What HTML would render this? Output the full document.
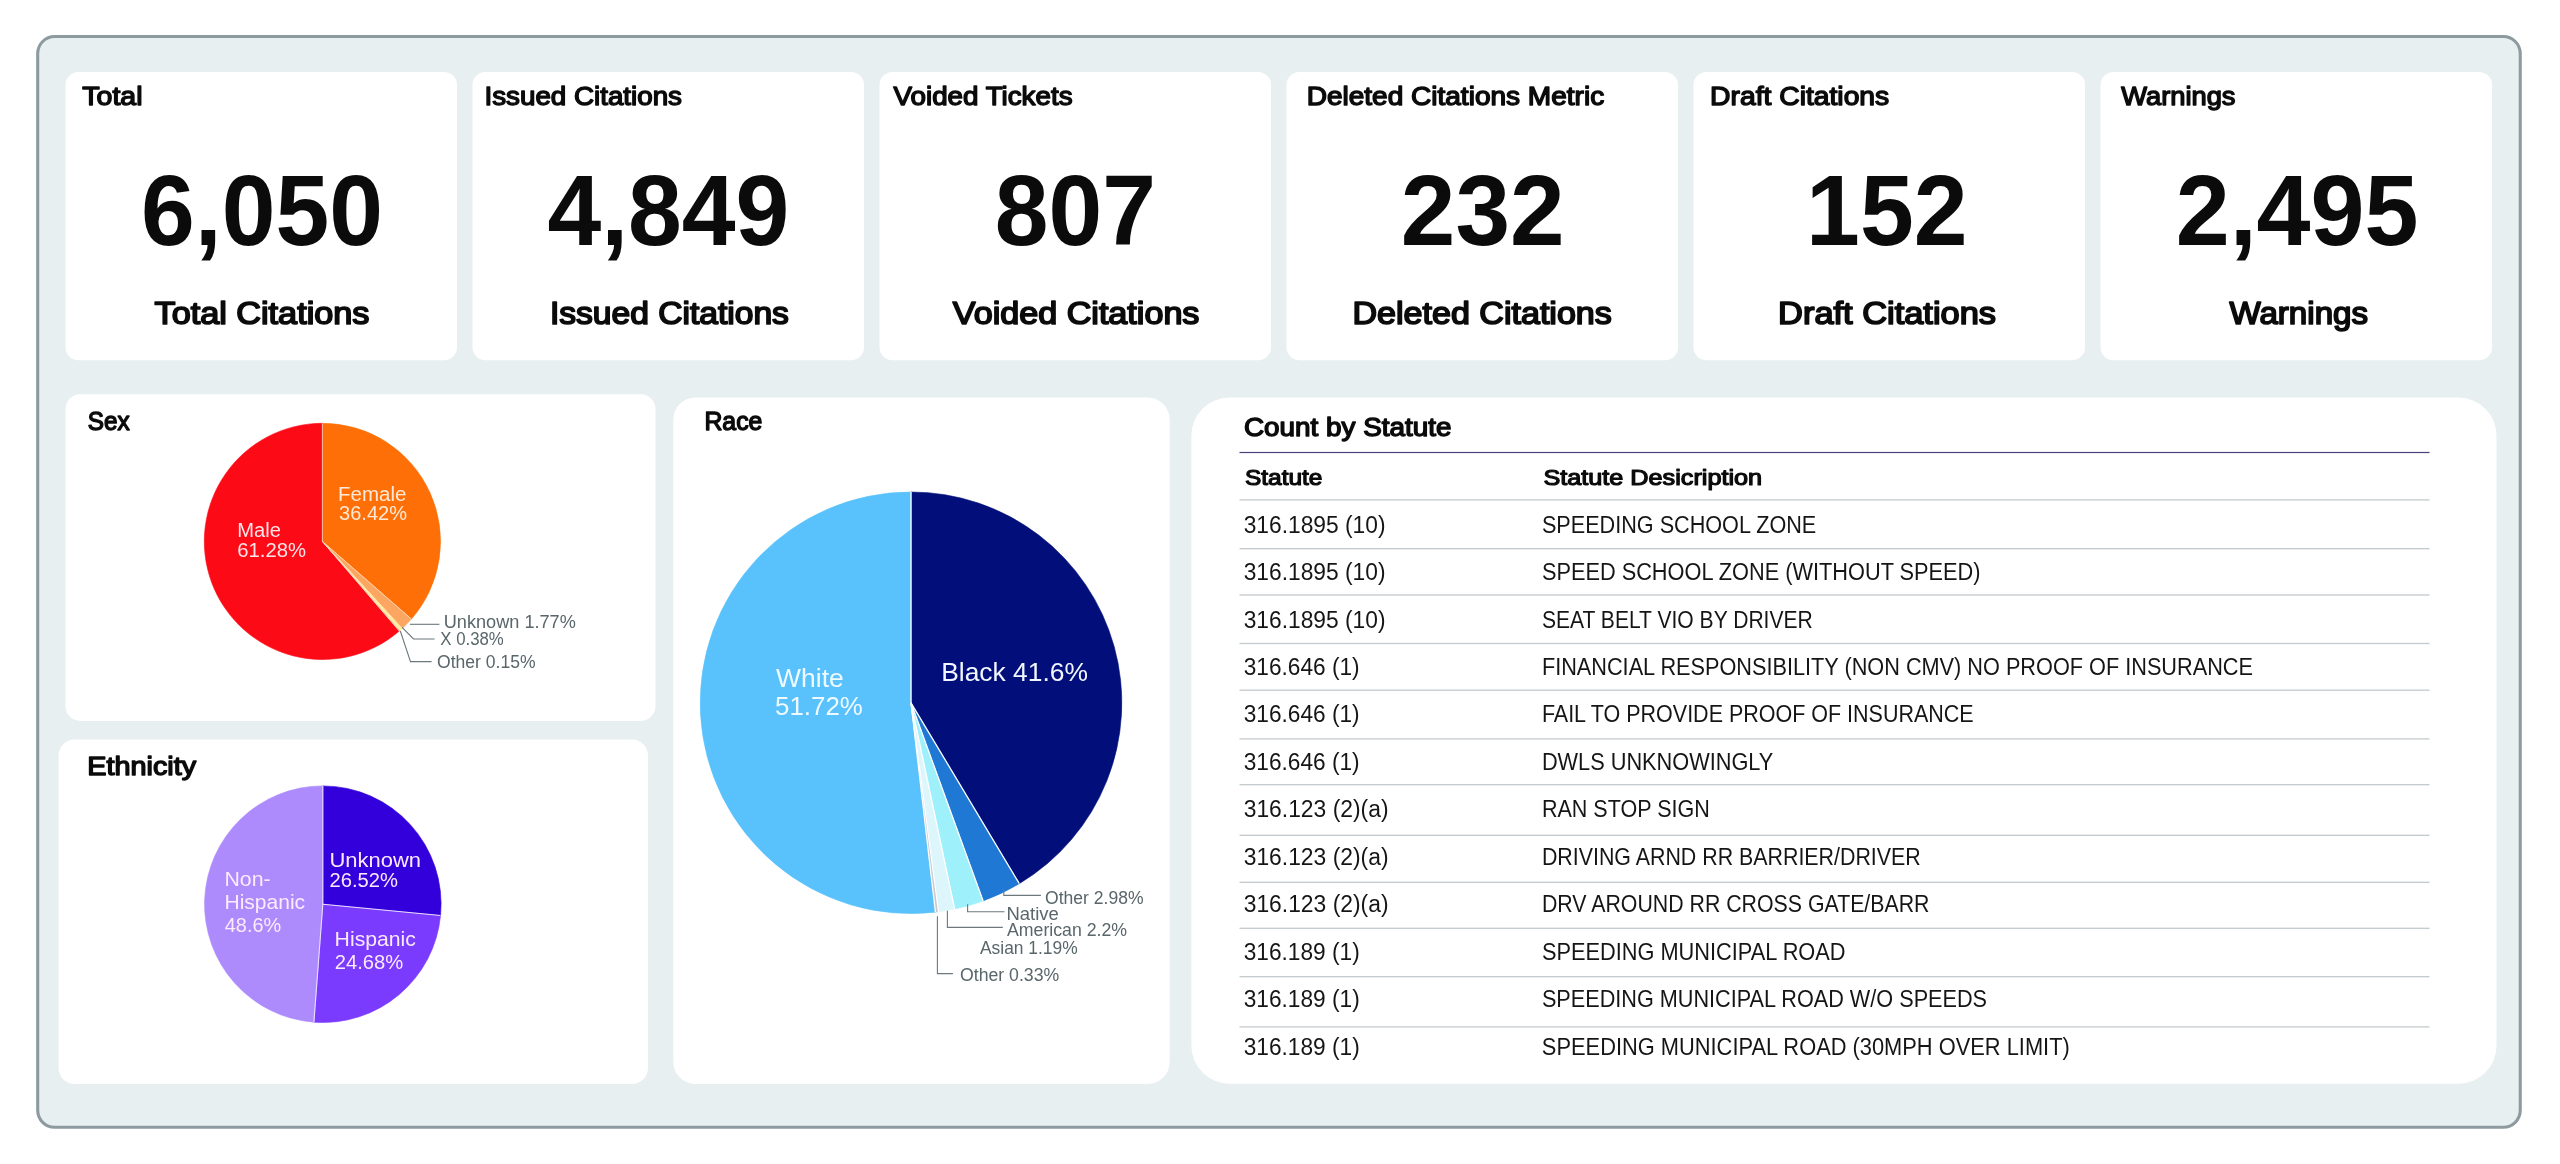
<!DOCTYPE html>
<html lang="en">
<head>
<meta charset="utf-8">
<title>Citations Dashboard</title>
<style>
html,body{margin:0;padding:0;background:#fff;}
body{width:2560px;height:1164px;overflow:hidden;font-family:'Liberation Sans', sans-serif;}
svg{display:block;will-change:transform;}
svg text{font-family:'Liberation Sans', sans-serif;white-space:pre;}
</style>
</head>
<body>
<svg width="2560" height="1164" viewBox="0 0 2560 1164">
<rect x="37.7" y="36.5" width="2482.55" height="1090.8" rx="17" fill="#e8eff1" stroke="#8d9ba0" stroke-width="3.1"/>
<rect x="65.5" y="72" width="391.5" height="288.3" rx="13" fill="#fff"/>
<rect x="472.5" y="72" width="391.5" height="288.3" rx="13" fill="#fff"/>
<rect x="879.5" y="72" width="391.5" height="288.3" rx="13" fill="#fff"/>
<rect x="1286.5" y="72" width="391.5" height="288.3" rx="13" fill="#fff"/>
<rect x="1693.5" y="72" width="391.5" height="288.3" rx="13" fill="#fff"/>
<rect x="2100.5" y="72" width="391.5" height="288.3" rx="13" fill="#fff"/>
<rect x="65.5" y="394.2" width="590" height="326.8" rx="15" fill="#fff"/>
<rect x="58.6" y="739.5" width="589.4" height="344.5" rx="16" fill="#fff"/>
<rect x="673.3" y="397.6" width="496.4" height="686.4" rx="22" fill="#fff"/>
<rect x="1191.4" y="397.6" width="1305.1" height="686.1" rx="38" fill="#fff"/>
<path d="M322.40 541.40L322.40 423.30A118.1 118.1 0 0 1 411.38 619.05Z" fill="#fe7007" stroke="#fe7007" stroke-width="0.6"/>
<path d="M322.40 541.40L411.38 619.05A118.1 118.1 0 0 1 402.21 628.45Z" fill="#fca662" stroke="#fca662" stroke-width="0.6"/>
<path d="M322.40 541.40L402.21 628.45A118.1 118.1 0 0 1 400.11 630.33Z" fill="#fdf290" stroke="#fdf290" stroke-width="0.6"/>
<path d="M322.40 541.40L400.11 630.33A118.1 118.1 0 0 1 399.27 631.06Z" fill="#fff9d8" stroke="#fff9d8" stroke-width="0.6"/>
<path d="M322.40 541.40L399.27 631.06A118.1 118.1 0 1 1 322.40 423.30Z" fill="#fd0a17" stroke="#fd0a17" stroke-width="0.6"/>
<path d="M322.40 541.40L322.40 423.30" stroke="#ffd9b8" stroke-width="0.9" fill="none"/>
<path d="M322.40 541.40L411.38 619.05" stroke="#ffd9b8" stroke-width="0.9" fill="none"/>
<path d="M322.40 541.40L402.21 628.45" stroke="#ffd9b8" stroke-width="0.9" fill="none"/>
<path d="M322.40 541.40L400.11 630.33" stroke="#ffd9b8" stroke-width="0.9" fill="none"/>
<path d="M322.40 541.40L399.27 631.06" stroke="#ffd9b8" stroke-width="0.9" fill="none"/>
<path d="M322.80 904.20L322.80 785.90A118.3 118.3 0 0 1 440.56 915.48Z" fill="#3300dc" stroke="#3300dc" stroke-width="0.6"/>
<path d="M322.80 904.20L440.56 915.48A118.3 118.3 0 0 1 313.89 1022.16Z" fill="#7a3bfe" stroke="#7a3bfe" stroke-width="0.6"/>
<path d="M322.80 904.20L313.89 1022.16A118.3 118.3 0 0 1 322.80 785.90Z" fill="#ad8bfd" stroke="#ad8bfd" stroke-width="0.6"/>
<path d="M322.80 904.20L322.80 785.90" stroke="#e9dcff" stroke-width="1.1" fill="none"/>
<path d="M322.80 904.20L440.56 915.48" stroke="#e9dcff" stroke-width="1.1" fill="none"/>
<path d="M322.80 904.20L313.89 1022.16" stroke="#e9dcff" stroke-width="1.1" fill="none"/>
<path d="M911.00 702.80L911.00 492.00A210.8 210.8 0 0 1 1019.32 883.64Z" fill="#020f7a" stroke="#020f7a" stroke-width="0.6"/>
<path d="M911.00 702.80L1019.32 883.64A210.8 210.8 0 0 1 983.10 900.89Z" fill="#2078d5" stroke="#2078d5" stroke-width="0.6"/>
<path d="M911.00 702.80L983.10 900.89A210.8 210.8 0 0 1 954.68 909.02Z" fill="#9ef0fb" stroke="#9ef0fb" stroke-width="0.6"/>
<path d="M911.00 702.80L954.68 909.02A210.8 210.8 0 0 1 938.51 911.80Z" fill="#dcf6fc" stroke="#dcf6fc" stroke-width="0.6"/>
<path d="M911.00 702.80L938.51 911.80A210.8 210.8 0 0 1 935.45 912.18Z" fill="#c8c8c8" stroke="#c8c8c8" stroke-width="0.6"/>
<path d="M911.00 702.80L935.45 912.18A210.8 210.8 0 1 1 911.00 492.00Z" fill="#59c2fc" stroke="#59c2fc" stroke-width="0.6"/>
<path d="M911.00 702.80L911.00 492.00" stroke="#ffffff" stroke-width="1.3" fill="none"/>
<path d="M911.00 702.80L1019.32 883.64" stroke="#ffffff" stroke-width="1.3" fill="none"/>
<path d="M911.00 702.80L983.10 900.89" stroke="#ffffff" stroke-width="1.3" fill="none"/>
<path d="M911.00 702.80L954.68 909.02" stroke="#ffffff" stroke-width="1.3" fill="none"/>
<path d="M911.00 702.80L938.51 911.80" stroke="#ffffff" stroke-width="1.3" fill="none"/>
<path d="M911.00 702.80L935.45 912.18" stroke="#ffffff" stroke-width="1.3" fill="none"/>
<path d="M409.9 624.3L439.4 624.3" stroke="#6c787d" stroke-width="1.1" fill="none"/>
<path d="M402.1 627.3L413.5 639L434.6 639" stroke="#6c787d" stroke-width="1.1" fill="none"/>
<path d="M400.3 631L410.5 661.6L431.6 661.6" stroke="#6c787d" stroke-width="1.1" fill="none"/>
<path d="M1003.8 889.5L1003.8 895.4L1040.9 895.4" stroke="#6c787d" stroke-width="1.1" fill="none"/>
<path d="M967.6 904.3L967.6 911.8L1004.5 911.8" stroke="#6c787d" stroke-width="1.1" fill="none"/>
<path d="M947.4 910.8L947.4 927.4L1002.8 927.4" stroke="#6c787d" stroke-width="1.1" fill="none"/>
<path d="M937.4 916.3L937.4 973.6L952.9 973.6" stroke="#6c787d" stroke-width="1.1" fill="none"/>
<rect x="1239.5" y="451.9" width="1190" height="1.2" fill="#47427c"/>
<rect x="1239.5" y="499.25" width="1190" height="1.3" fill="#c3cacd"/>
<rect x="1239.5" y="548.0500000000001" width="1190" height="1.3" fill="#c3cacd"/>
<rect x="1239.5" y="594.35" width="1190" height="1.3" fill="#c3cacd"/>
<rect x="1239.5" y="642.85" width="1190" height="1.3" fill="#c3cacd"/>
<rect x="1239.5" y="689.5500000000001" width="1190" height="1.3" fill="#c3cacd"/>
<rect x="1239.5" y="738.25" width="1190" height="1.3" fill="#c3cacd"/>
<rect x="1239.5" y="784.0500000000001" width="1190" height="1.3" fill="#c3cacd"/>
<rect x="1239.5" y="834.65" width="1190" height="1.3" fill="#c3cacd"/>
<rect x="1239.5" y="881.65" width="1190" height="1.3" fill="#c3cacd"/>
<rect x="1239.5" y="927.65" width="1190" height="1.3" fill="#c3cacd"/>
<rect x="1239.5" y="976.0500000000001" width="1190" height="1.3" fill="#c3cacd"/>
<rect x="1239.5" y="1026.25" width="1190" height="1.3" fill="#c3cacd"/>
<text x="82.29" y="104.91" font-size="25.17" stroke="#0b0b0b" stroke-width="1.38" stroke-linejoin="round" fill="#0b0b0b" textLength="60.22" lengthAdjust="spacingAndGlyphs">Total</text>
<text x="484.49" y="104.91" font-size="25.17" stroke="#0b0b0b" stroke-width="1.38" stroke-linejoin="round" fill="#0b0b0b" textLength="197.46" lengthAdjust="spacingAndGlyphs">Issued Citations</text>
<text x="893.59" y="104.91" font-size="25.17" stroke="#0b0b0b" stroke-width="1.38" stroke-linejoin="round" fill="#0b0b0b" textLength="178.95" lengthAdjust="spacingAndGlyphs">Voided Tickets</text>
<text x="1306.66" y="104.91" font-size="25.17" stroke="#0b0b0b" stroke-width="1.38" stroke-linejoin="round" fill="#0b0b0b" textLength="297.49" lengthAdjust="spacingAndGlyphs">Deleted Citations Metric</text>
<text x="1710.14" y="104.91" font-size="25.17" stroke="#0b0b0b" stroke-width="1.38" stroke-linejoin="round" fill="#0b0b0b" textLength="179.11" lengthAdjust="spacingAndGlyphs">Draft Citations</text>
<text x="2121.29" y="104.91" font-size="25.17" stroke="#0b0b0b" stroke-width="1.38" stroke-linejoin="round" fill="#0b0b0b" textLength="114.24" lengthAdjust="spacingAndGlyphs">Warnings</text>
<text x="141.10" y="244.70" font-size="100.00" font-weight="bold" fill="#0b0b0b" textLength="241.89" lengthAdjust="spacingAndGlyphs">6,050</text>
<text x="547.53" y="244.70" font-size="100.00" font-weight="bold" fill="#0b0b0b" textLength="241.86" lengthAdjust="spacingAndGlyphs">4,849</text>
<text x="994.80" y="244.70" font-size="100.00" font-weight="bold" fill="#0b0b0b" textLength="161.09" lengthAdjust="spacingAndGlyphs">807</text>
<text x="1400.86" y="244.70" font-size="100.00" font-weight="bold" fill="#0b0b0b" textLength="163.69" lengthAdjust="spacingAndGlyphs">232</text>
<text x="1806.09" y="244.70" font-size="100.00" font-weight="bold" fill="#0b0b0b" textLength="161.51" lengthAdjust="spacingAndGlyphs">152</text>
<text x="2175.69" y="244.70" font-size="100.00" font-weight="bold" fill="#0b0b0b" textLength="242.85" lengthAdjust="spacingAndGlyphs">2,495</text>
<text x="154.54" y="324.36" font-size="30.69" stroke="#0b0b0b" stroke-width="1.69" stroke-linejoin="round" fill="#0b0b0b" textLength="214.89" lengthAdjust="spacingAndGlyphs">Total Citations</text>
<text x="549.95" y="324.36" font-size="30.69" stroke="#0b0b0b" stroke-width="1.69" stroke-linejoin="round" fill="#0b0b0b" textLength="238.97" lengthAdjust="spacingAndGlyphs">Issued Citations</text>
<text x="952.84" y="324.36" font-size="30.69" stroke="#0b0b0b" stroke-width="1.69" stroke-linejoin="round" fill="#0b0b0b" textLength="246.59" lengthAdjust="spacingAndGlyphs">Voided Citations</text>
<text x="1352.52" y="324.36" font-size="30.69" stroke="#0b0b0b" stroke-width="1.69" stroke-linejoin="round" fill="#0b0b0b" textLength="259.31" lengthAdjust="spacingAndGlyphs">Deleted Citations</text>
<text x="1778.10" y="324.36" font-size="30.69" stroke="#0b0b0b" stroke-width="1.69" stroke-linejoin="round" fill="#0b0b0b" textLength="217.93" lengthAdjust="spacingAndGlyphs">Draft Citations</text>
<text x="2229.44" y="324.36" font-size="30.69" stroke="#0b0b0b" stroke-width="1.69" stroke-linejoin="round" fill="#0b0b0b" textLength="138.57" lengthAdjust="spacingAndGlyphs">Warnings</text>
<text x="87.84" y="430.00" font-size="25.30" stroke="#0b0b0b" stroke-width="1.39" stroke-linejoin="round" fill="#0b0b0b" textLength="41.83" lengthAdjust="spacingAndGlyphs">Sex</text>
<text x="87.22" y="775.10" font-size="25.30" stroke="#0b0b0b" stroke-width="1.39" stroke-linejoin="round" fill="#0b0b0b" textLength="108.99" lengthAdjust="spacingAndGlyphs">Ethnicity</text>
<text x="704.43" y="430.20" font-size="25.30" stroke="#0b0b0b" stroke-width="1.39" stroke-linejoin="round" fill="#0b0b0b" textLength="58.02" lengthAdjust="spacingAndGlyphs">Race</text>
<text x="1243.96" y="436.42" font-size="24.90" stroke="#0b0b0b" stroke-width="1.37" stroke-linejoin="round" fill="#0b0b0b" textLength="207.59" lengthAdjust="spacingAndGlyphs">Count by Statute</text>
<text x="1245.00" y="485.30" font-size="21.67" stroke="#0b0b0b" stroke-width="1.19" stroke-linejoin="round" fill="#0b0b0b" textLength="77.46" lengthAdjust="spacingAndGlyphs">Statute</text>
<text x="1543.40" y="485.30" font-size="21.67" stroke="#0b0b0b" stroke-width="1.19" stroke-linejoin="round" fill="#0b0b0b" textLength="218.72" lengthAdjust="spacingAndGlyphs">Statute Desicription</text>
<text x="1243.70" y="532.60" font-size="23.57" fill="#151515" textLength="141.82" lengthAdjust="spacingAndGlyphs">316.1895 (10)</text>
<text x="1541.88" y="532.60" font-size="23.57" fill="#151515" textLength="274.37" lengthAdjust="spacingAndGlyphs">SPEEDING SCHOOL ZONE</text>
<text x="1243.70" y="580.05" font-size="23.57" fill="#151515" textLength="141.82" lengthAdjust="spacingAndGlyphs">316.1895 (10)</text>
<text x="1541.88" y="580.05" font-size="23.57" fill="#151515" textLength="438.70" lengthAdjust="spacingAndGlyphs">SPEED SCHOOL ZONE (WITHOUT SPEED)</text>
<text x="1243.70" y="627.50" font-size="23.57" fill="#151515" textLength="141.82" lengthAdjust="spacingAndGlyphs">316.1895 (10)</text>
<text x="1541.91" y="627.50" font-size="23.57" fill="#151515" textLength="270.90" lengthAdjust="spacingAndGlyphs">SEAT BELT VIO BY DRIVER</text>
<text x="1243.70" y="674.95" font-size="23.57" fill="#151515" textLength="115.91" lengthAdjust="spacingAndGlyphs">316.646 (1)</text>
<text x="1541.88" y="674.95" font-size="23.57" fill="#151515" textLength="711.08" lengthAdjust="spacingAndGlyphs">FINANCIAL RESPONSIBILITY (NON CMV) NO PROOF OF INSURANCE</text>
<text x="1243.70" y="722.40" font-size="23.57" fill="#151515" textLength="115.91" lengthAdjust="spacingAndGlyphs">316.646 (1)</text>
<text x="1541.89" y="722.40" font-size="23.57" fill="#151515" textLength="431.76" lengthAdjust="spacingAndGlyphs">FAIL TO PROVIDE PROOF OF INSURANCE</text>
<text x="1243.70" y="769.85" font-size="23.57" fill="#151515" textLength="115.91" lengthAdjust="spacingAndGlyphs">316.646 (1)</text>
<text x="1541.88" y="769.85" font-size="23.57" fill="#151515" textLength="231.46" lengthAdjust="spacingAndGlyphs">DWLS UNKNOWINGLY</text>
<text x="1243.70" y="817.30" font-size="23.57" fill="#151515" textLength="144.82" lengthAdjust="spacingAndGlyphs">316.123 (2)(a)</text>
<text x="1541.89" y="817.30" font-size="23.57" fill="#151515" textLength="168.04" lengthAdjust="spacingAndGlyphs">RAN STOP SIGN</text>
<text x="1243.70" y="864.75" font-size="23.57" fill="#151515" textLength="144.82" lengthAdjust="spacingAndGlyphs">316.123 (2)(a)</text>
<text x="1541.90" y="864.75" font-size="23.57" fill="#151515" textLength="378.82" lengthAdjust="spacingAndGlyphs">DRIVING ARND RR BARRIER/DRIVER</text>
<text x="1243.70" y="912.20" font-size="23.57" fill="#151515" textLength="144.82" lengthAdjust="spacingAndGlyphs">316.123 (2)(a)</text>
<text x="1541.90" y="912.20" font-size="23.57" fill="#151515" textLength="387.62" lengthAdjust="spacingAndGlyphs">DRV AROUND RR CROSS GATE/BARR</text>
<text x="1243.70" y="959.65" font-size="23.57" fill="#151515" textLength="116.01" lengthAdjust="spacingAndGlyphs">316.189 (1)</text>
<text x="1541.88" y="959.65" font-size="23.57" fill="#151515" textLength="303.66" lengthAdjust="spacingAndGlyphs">SPEEDING MUNICIPAL ROAD</text>
<text x="1243.70" y="1007.10" font-size="23.57" fill="#151515" textLength="116.01" lengthAdjust="spacingAndGlyphs">316.189 (1)</text>
<text x="1541.88" y="1007.10" font-size="23.57" fill="#151515" textLength="445.17" lengthAdjust="spacingAndGlyphs">SPEEDING MUNICIPAL ROAD W/O SPEEDS</text>
<text x="1243.70" y="1054.55" font-size="23.57" fill="#151515" textLength="116.01" lengthAdjust="spacingAndGlyphs">316.189 (1)</text>
<text x="1541.87" y="1054.55" font-size="23.57" fill="#151515" textLength="527.91" lengthAdjust="spacingAndGlyphs">SPEEDING MUNICIPAL ROAD (30MPH OVER LIMIT)</text>
<text x="338.06" y="500.70" font-size="19.77" fill="#ffe9d6" textLength="68.32" lengthAdjust="spacingAndGlyphs">Female</text>
<text x="339.10" y="519.80" font-size="19.77" fill="#ffe9d6" textLength="67.87" lengthAdjust="spacingAndGlyphs">36.42%</text>
<text x="237.28" y="537.00" font-size="19.77" fill="#ffe3e6" textLength="43.70" lengthAdjust="spacingAndGlyphs">Male</text>
<text x="237.27" y="556.50" font-size="19.77" fill="#ffe3e6" textLength="68.80" lengthAdjust="spacingAndGlyphs">61.28%</text>
<text x="329.40" y="867.30" font-size="20.06" fill="#fbe9fc" textLength="91.66" lengthAdjust="spacingAndGlyphs">Unknown</text>
<text x="329.49" y="886.70" font-size="20.06" fill="#fbe9fc" textLength="68.53" lengthAdjust="spacingAndGlyphs">26.52%</text>
<text x="224.44" y="886.10" font-size="20.06" fill="#fdeafc" textLength="46.18" lengthAdjust="spacingAndGlyphs">Non-</text>
<text x="224.45" y="909.00" font-size="20.06" fill="#fdeafc" textLength="80.67" lengthAdjust="spacingAndGlyphs">Hispanic</text>
<text x="224.80" y="931.50" font-size="20.06" fill="#fdeafc" textLength="56.33" lengthAdjust="spacingAndGlyphs">48.6%</text>
<text x="334.64" y="946.30" font-size="20.06" fill="#fbe9fc" textLength="81.28" lengthAdjust="spacingAndGlyphs">Hispanic</text>
<text x="334.69" y="968.90" font-size="20.06" fill="#fbe9fc" textLength="68.53" lengthAdjust="spacingAndGlyphs">24.68%</text>
<text x="941.20" y="680.60" font-size="26.45" fill="#f2f6ff" textLength="146.80" lengthAdjust="spacingAndGlyphs">Black 41.6%</text>
<text x="776.10" y="686.50" font-size="26.45" fill="#eefaff" textLength="67.60" lengthAdjust="spacingAndGlyphs">White</text>
<text x="775.02" y="715.20" font-size="26.45" fill="#eefaff" textLength="87.78" lengthAdjust="spacingAndGlyphs">51.72%</text>
<text x="443.76" y="627.90" font-size="17.44" fill="#59666a" textLength="132.06" lengthAdjust="spacingAndGlyphs">Unknown 1.77%</text>
<text x="440.30" y="644.80" font-size="17.44" fill="#59666a" textLength="63.49" lengthAdjust="spacingAndGlyphs">X 0.38%</text>
<text x="437.00" y="667.50" font-size="17.44" fill="#59666a" textLength="98.51" lengthAdjust="spacingAndGlyphs">Other 0.15%</text>
<text x="1045.00" y="903.60" font-size="17.44" fill="#59666a" textLength="98.51" lengthAdjust="spacingAndGlyphs">Other 2.98%</text>
<text x="1006.44" y="920.00" font-size="17.44" fill="#59666a" textLength="52.40" lengthAdjust="spacingAndGlyphs">Native</text>
<text x="1007.00" y="935.50" font-size="17.44" fill="#59666a" textLength="120.11" lengthAdjust="spacingAndGlyphs">American 2.2%</text>
<text x="980.00" y="954.00" font-size="17.44" fill="#59666a" textLength="97.70" lengthAdjust="spacingAndGlyphs">Asian 1.19%</text>
<text x="960.00" y="980.50" font-size="17.44" fill="#59666a" textLength="99.21" lengthAdjust="spacingAndGlyphs">Other 0.33%</text>
</svg>
</body>
</html>
